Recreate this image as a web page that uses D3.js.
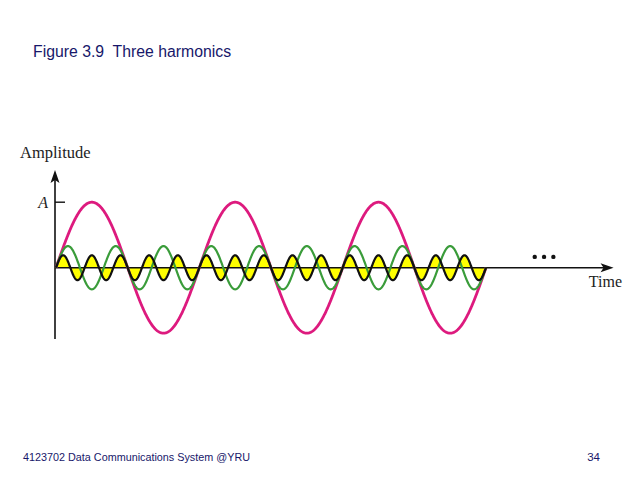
<!DOCTYPE html>
<html>
<head>
<meta charset="utf-8">
<script src="https://cdn.jsdelivr.net/npm/d3@7"></script>
<style>
  html, body { margin: 0; padding: 0; background: #fff; }
  svg { display: block; }
</style>
</head>
<body>
<div id="d3-container"></div>
<script>
// Harmonic content
var harmonicNumbers = [1, 3, 5];          // multiples of the fundamental
var harmonicAmplitudes = [1, 0.33, 0.19]; // relative to A
var fundamentalCycles = 3;                // cycles of the fundamental drawn
var amplitudeTicks = [1];
var amplitudeTickLabels = ["A"];

var width = 638, height = 478;

var svg = d3.select("#d3-container").append("svg")
    .attr("width", width)
    .attr("height", height);

// Scales: time in fundamental periods, amplitude relative to A
var x = d3.scaleLinear().domain([0, fundamentalCycles]).range([56, 486]);
var y = d3.scaleLinear().domain([-1, 1]).range([333.2, 202.2]);

// Title
svg.append("text")
    .attr("x", 33)
    .attr("y", 56.5)
    .style("font-family", "Liberation Sans, Arial, sans-serif")
    .style("font-size", "15.8px")
    .attr("fill", "#17176a")
    .attr("xml:space", "preserve")
    .text("Figure 3.9  Three harmonics");

// Footer
svg.append("text")
    .attr("x", 23)
    .attr("y", 460.5)
    .style("font-family", "Liberation Sans, Arial, sans-serif")
    .style("font-size", "10.8px")
    .attr("fill", "#17176a")
    .text("4123702 Data Communications System @YRU");
svg.append("text")
    .attr("x", 600)
    .attr("y", 460.5)
    .attr("text-anchor", "end")
    .style("font-family", "Liberation Sans, Arial, sans-serif")
    .style("font-size", "11.5px")
    .attr("fill", "#17176a")
    .text("34");

// Sample a harmonic: sin(2*pi*n*t)
var sampleHarmonic = function(n, amp) {
    var step = fundamentalCycles / 1200;
    return d3.range(0, fundamentalCycles + step / 2, step).map(function(t) {
        return { t: t, v: amp * Math.sin(2 * Math.PI * n * t) };
    });
};

var series = harmonicNumbers.map(function(n, i) {
    return { n: n, points: sampleHarmonic(n, harmonicAmplitudes[i]) };
});

var line = d3.line()
    .x(function(d) { return x(d.t); })
    .y(function(d) { return y(d.v); });

var area = d3.area()
    .x(function(d) { return x(d.t); })
    .y0(y(0))
    .y1(function(d) { return y(d.v); });

var waveG = svg.append("g");
var axisG = svg.append("g");

// Yellow fill under the fifth harmonic
waveG.append("path")
    .datum(series[2].points)
    .attr("d", area)
    .attr("fill", "#ffff00");

// Axes
var x0 = x(0) - 1, y0 = y(0);
var yTop = y(1.49), yBottom = y(-1.09);
var xRight = x(3.89);

axisG.append("line")
    .attr("x1", x0).attr("y1", yBottom)
    .attr("x2", x0).attr("y2", yTop + 8)
    .attr("stroke", "#111").attr("stroke-width", 1.6);
axisG.append("path")
    .attr("d", "M" + x0 + "," + yTop + " L" + (x0 + 4.5) + "," + (yTop + 13) +
        " L" + x0 + "," + (yTop + 10) + " L" + (x0 - 4.5) + "," + (yTop + 13) + "Z")
    .attr("fill", "#111");

axisG.append("line")
    .attr("x1", x0).attr("y1", y0)
    .attr("x2", xRight - 8).attr("y2", y0)
    .attr("stroke", "#111").attr("stroke-width", 1.6);
axisG.append("path")
    .attr("d", "M" + xRight + "," + y0 + " L" + (xRight - 13) + "," + (y0 - 4.5) +
        " L" + (xRight - 10) + "," + y0 + " L" + (xRight - 13) + "," + (y0 + 4.5) + "Z")
    .attr("fill", "#111");

// Amplitude tick
amplitudeTicks.forEach(function(v, i) {
    axisG.append("line")
        .attr("x1", x0).attr("y1", y(v))
        .attr("x2", x0 + 10).attr("y2", y(v))
        .attr("stroke", "#111").attr("stroke-width", 1.4);
    axisG.append("text")
        .attr("x", x0 - 7)
        .attr("y", y(v) + 5.5)
        .attr("text-anchor", "end")
        .style("font-family", "Liberation Serif, Times New Roman, serif")
        .style("font-style", "italic")
        .style("font-size", "16px")
        .attr("fill", "#222")
        .text(amplitudeTickLabels[i]);
});

// Axis labels
axisG.append("text")
    .attr("x", 20)
    .attr("y", 158)
    .style("font-family", "Liberation Serif, Times New Roman, serif")
    .style("font-size", "16.5px")
    .attr("fill", "#222")
    .text("Amplitude");
axisG.append("text")
    .attr("x", 622)
    .attr("y", 287)
    .attr("text-anchor", "end")
    .style("font-family", "Liberation Serif, Times New Roman, serif")
    .style("font-size", "16px")
    .attr("fill", "#222")
    .text("Time");

// Continuation dots
axisG.selectAll("circle.dot")
    .data([3.34, 3.405, 3.47])
    .enter().append("circle")
    .attr("class", "dot")
    .attr("cx", function(d) { return x(d); })
    .attr("cy", y(0.165))
    .attr("r", 2.2)
    .attr("fill", "#111");

// Harmonic curves
var strokes = ["#dd1a7e", "#3a9c3a", "#111111"];
var strokeWidths = [2.8, 2.2, 2.2];
svg.append("g").selectAll("path")
    .data(series)
    .enter().append("path")
    .attr("d", function(d) { return line(d.points); })
    .attr("fill", "none")
    .attr("stroke", function(d, i) { return strokes[i]; })
    .attr("stroke-width", function(d, i) { return strokeWidths[i]; })
    .attr("stroke-linejoin", "round");
</script>
</body>
</html>
